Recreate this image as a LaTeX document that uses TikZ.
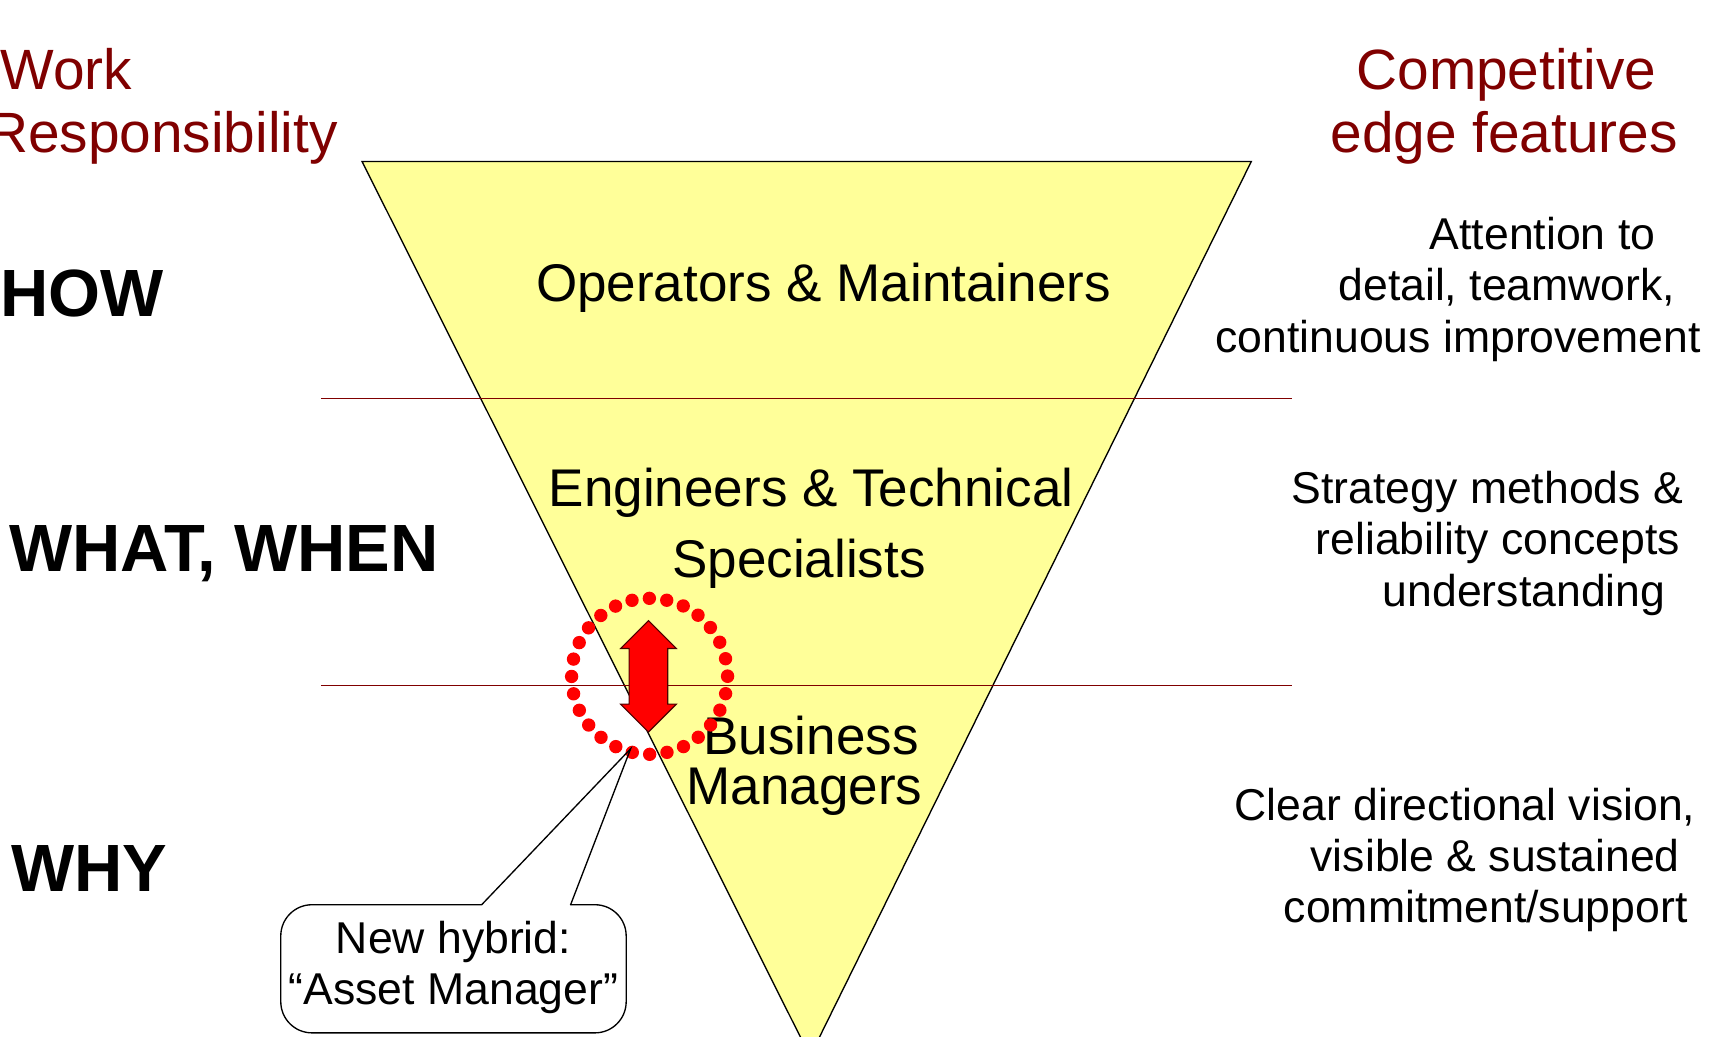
\documentclass[tikz,border=0pt]{standalone}
\usepackage{fontspec}
\setmainfont{Liberation Sans}
\usetikzlibrary{shapes.arrows,shapes.callouts}
\definecolor{dred}{RGB}{128,0,0}
\definecolor{tri}{RGB}{255,255,153}
\tikzset{
 hd/.style={text=dred,font=\fontsize{25.5}{29}\selectfont,align=center,inner sep=0},
 q/.style={font=\bfseries\fontsize{30}{33}\selectfont,anchor=base west,inner sep=0},
 lay/.style={font=\fontsize{23.8}{28}\selectfont,inner sep=0},
 rt/.style={font=\fontsize{20}{23}\selectfont,inner sep=0,anchor=base east},
 sep/.style={dred,line width=0.5pt}
}
\begin{document}
\begin{tikzpicture}[x=0.5pt,y=-0.5pt]
\useasboundingbox (0,0) rectangle (1550,930);
\fill[white] (0,0) rectangle (1550,930);
\coordinate (tl) at (325,145); \coordinate (tr) at (1123,145); \coordinate (ap) at (727,948);
\begin{scope}
\clip (0,0) rectangle (1550,930);
\draw[fill=tri,line width=0.6pt] (tl) -- (tr) -- (ap) -- cycle;
\end{scope}
\draw[sep] (288,358) -- (1160,358);
\draw[sep] (288,615) -- (1160,615);
\node[hd,anchor=base west] (w1) at (0,80) {Work};
\node[hd,anchor=base west] (w2) at (-12,137) {Responsibility};
\node[hd,anchor=base] (c1) at (1352,80) {Competitive};
\node[hd,anchor=base] (c2) at (1350,137) {edge features};
\node[q] (how) at (0,284) {HOW};
\node[q] (what) at (8,513) {WHAT, WHEN};
\node[q] (why) at (10,800) {WHY};
\node[lay,anchor=base] (op) at (739,271) {Operators \& Maintainers};
\node[lay,anchor=base] (en1) at (728,455) {Engineers \& Technical};
\node[lay,anchor=base] (en2) at (717,518) {Specialists};
\node[lay,anchor=base] (bm1) at (728,677) {Business};
\node[lay,anchor=base] (bm2) at (722,722) {Managers};
\node[rt] (a1) at (1486,224) {Attention to};
\node[rt] (a2) at (1504,270) {detail, teamwork,};
\node[rt] (a3) at (1527,316) {continuous improvement};
\node[rt] (s1) at (1511,452) {Strategy methods \&};
\node[rt] (s2) at (1508,498) {reliability concepts};
\node[rt] (s3) at (1495,544) {understanding};
\node[rt] (v1) at (1522,736) {Clear directional vision,};
\node[rt] (v2) at (1508,782) {visible \& sustained};
\node[rt] (v3) at (1515,828) {commitment/support};
\coordinate (cc) at (583,607);
\draw[red,line width=6pt,line cap=round,dash pattern=on 0pt off 7.85pt] (cc) circle (70);
\node[double arrow,draw=black!70!red,fill=red,line width=0.5pt,rotate=90,minimum height=50pt,minimum width=25pt,double arrow head extend=1pt,inner sep=2pt] (arr) at (582,607) {};
\coordinate (tip) at (566,672);
\draw[line width=0.6pt,fill=white,rounded corners=14pt]
 (432,812) -- (252,812) -- (252,927) -- (562,927) -- (562,812) -- (512,812);
\draw[line width=0.6pt] (432,812.3) -- (tip) -- (512,812.3);
\node[font=\fontsize{20}{23}\selectfont,align=center,inner sep=0] (nh) at (407,868) {New hybrid:\\``Asset Manager''};
\end{tikzpicture}
\end{document}
